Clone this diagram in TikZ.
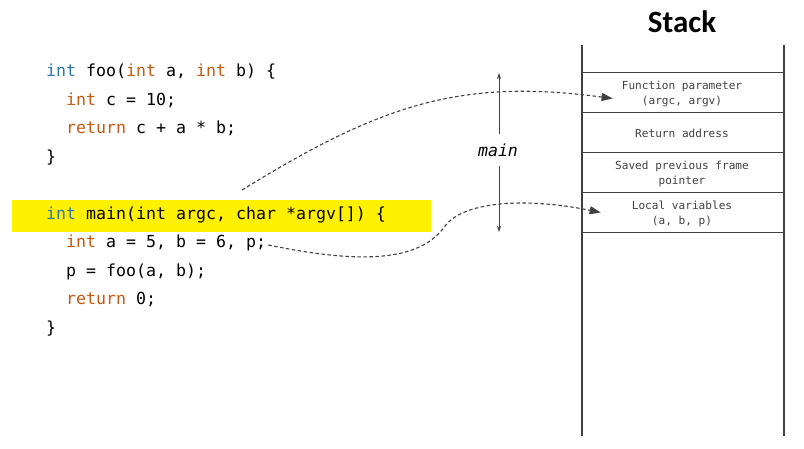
\documentclass[tikz,border=0pt]{standalone}
\usepackage{fontspec}
\setmonofont{DejaVu Sans Mono}
\newfontfamily\titlefont{Carlito}
\usepackage{tikz}
\usetikzlibrary{arrows.meta}
\definecolor{kwblue}{HTML}{2E75B6}
\definecolor{kword}{HTML}{C55A11}
\definecolor{hl}{HTML}{FFF100}
\definecolor{ink}{HTML}{404040}

\begin{document}
\begin{tikzpicture}[x=1pt,y=-1pt,
		code/.style={anchor=base west,inner sep=0pt,font=\ttfamily\fontsize{16.6}{20}\selectfont},
		cell/.style={align=center,text=ink,inner sep=0pt,font=\ttfamily\fontsize{11.1}{15}\selectfont},
		ptr/.style={dashed,ink,line width=1.1pt,dash pattern=on 3.5pt off 2.5pt,-{Triangle[length=11pt,width=8pt]}},
		wall/.style={ink,line width=2.6pt},
		slot/.style={ink,line width=0.9pt}]
		\useasboundingbox (0,0) rectangle (804,449);

		%Kode
		\fill [hl] (12,200) rectangle (431,232);
		\node [code] (l1) at (46,77) {\textcolor{kwblue}{int} foo(\textcolor{kword}{int} a, \textcolor{kword}{int} b) \{};
		\node [code] (l2) at (66,105.5) {\textcolor{kword}{int} c = 10;};
		\node [code] (l3) at (66,134) {\textcolor{kword}{return} c + a * b;};
		\node [code] (l4) at (46,162.5) {\}};
		\node [code] (l5) at (46,219.5) {\textcolor{kwblue}{int} main(int argc, char *argv[]) \{};
		\node [code] (l6) at (66,248) {\textcolor{kword}{int} a = 5, b = 6, p;};
		\node [code] (l7) at (66,276.5) {p = foo(a, b);};
		\node [code] (l8) at (66,305) {\textcolor{kword}{return} 0;};
		\node [code] (l9) at (46,333.5) {\}};

		%Stack
		\node [font=\titlefont\bfseries\fontsize{31}{34}\selectfont] (title) at (682,22) {Stack};
		\draw [wall] (582,45) -- (582,436);
		\draw [wall] (784,45) -- (784,436);
		\foreach \y in {72, 112, 152, 192, 232}{
			\draw [slot] (582,\y) -- (784,\y);
		}
		\node [cell] (par) at (682,93.5) {Function parameter\\(argc, argv)};
		\node [cell] (ret) at (682,133) {Return address};
		\node [cell] (sfp) at (682,173.5) {Saved previous frame\\pointer};
		\node [cell] (loc) at (682,213.5) {Local variables\\(a, b, p)};

		%main ramme
		\node [font=\ttfamily\itshape\fontsize{16.6}{20}\selectfont,minimum height=32pt,inner sep=0pt] (frame) at (498,150) {main};
		\coordinate (ftop) at (499,73);
		\coordinate (fbot) at (499,232);
		\draw [ink,line width=0.8pt,-{Stealth[length=6pt,width=4pt]}] ([xshift=1]frame.north) -- (ftop);
		\draw [ink,line width=0.8pt,-{Stealth[length=6pt,width=4pt]}] ([xshift=1]frame.south) -- (fbot);

		%Piler
		\coordinate (from) at (242,190);
		\draw [ptr] (from) .. controls (380,105) and (460,78) .. ([shift={(-9,5)}]par.west);
		\draw [ptr] ([shift={(2,-3)}]l6.base east) .. controls (360,264) and (420,262) .. (445,226)
			.. controls (465,200) and (530,198) .. ([shift={(-31,-1)}]loc.west);
	\end{tikzpicture}
\end{document}
